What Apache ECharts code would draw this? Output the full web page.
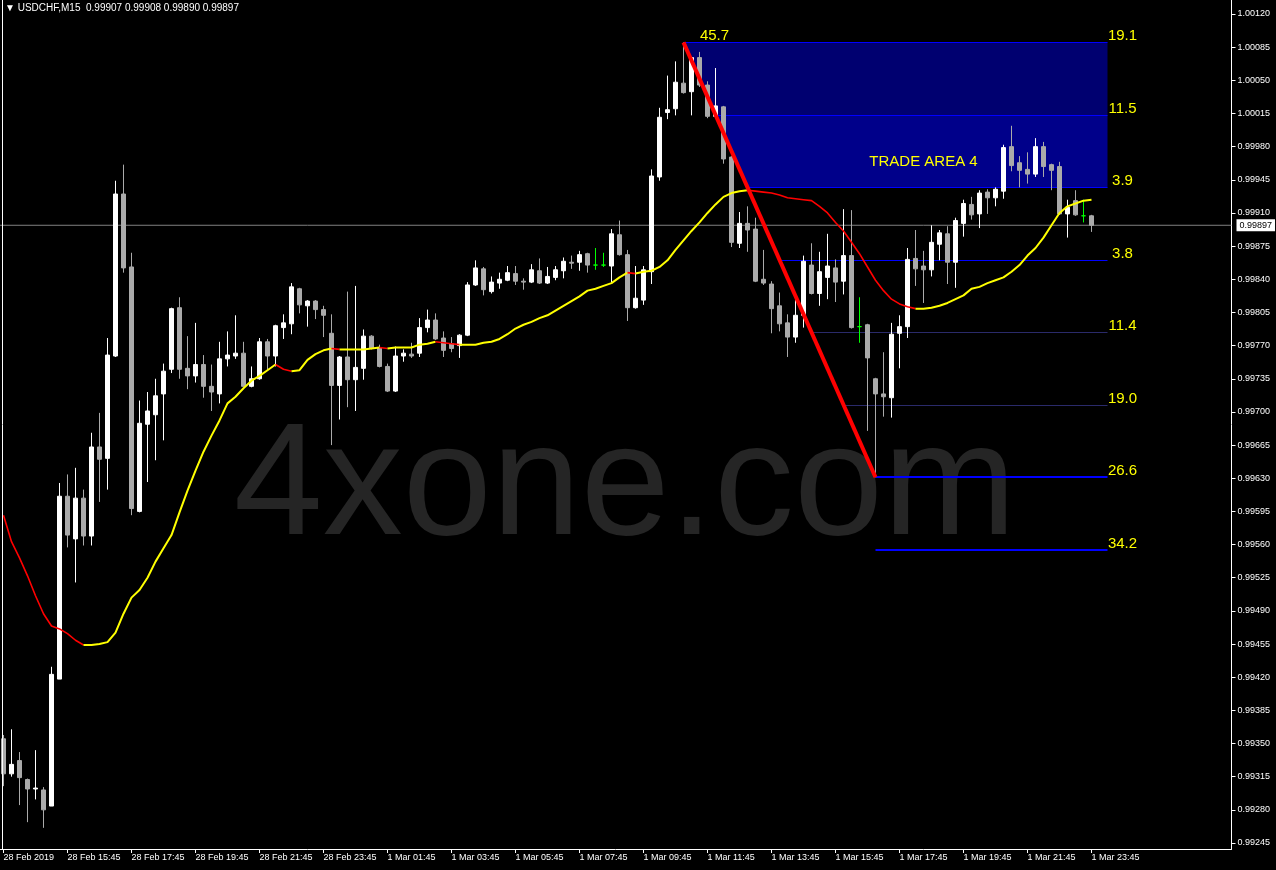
<!DOCTYPE html>
<html><head><meta charset="utf-8">
<script src="https://cdn.jsdelivr.net/npm/echarts@6/dist/echarts.min.js"></script>
<style>html,body{margin:0;padding:0;background:#000;}#c{width:1276px;height:870px;}</style>
</head><body><div id="c"></div>
<script>
const chartTitle = '\u25BC USDCHF,M15  0.99907 0.99908 0.99890 0.99897';
const watermark = '4xone.com';
const xTickLabels = ['28 Feb 2019','28 Feb 15:45','28 Feb 17:45','28 Feb 19:45','28 Feb 21:45','28 Feb 23:45',
  '1 Mar 01:45','1 Mar 03:45','1 Mar 05:45','1 Mar 07:45','1 Mar 09:45','1 Mar 11:45','1 Mar 13:45',
  '1 Mar 15:45','1 Mar 17:45','1 Mar 19:45','1 Mar 21:45','1 Mar 23:45'];
const yTicks = [0.99245,0.99280,0.99315,0.99350,0.99385,0.99420,0.99455,0.99490,0.99525,0.99560,
  0.99595,0.99630,0.99665,0.99700,0.99735,0.99770,0.99805,0.99840,0.99875,0.99910,0.99945,0.99980,
  1.00015,1.00050,1.00085,1.00120];

const opens = [0.99355,0.99318,0.99332,0.99312,0.99302,0.99301,0.99284,0.99418,0.99611,0.99566,
0.99609,0.99569,0.99663,0.99651,0.99759,0.99930,0.99853,0.99595,0.99687,0.99697,
0.99719,0.99745,0.99810,0.99746,0.99738,0.99750,0.99727,0.99719,0.99756,0.99759,
0.99762,0.99727,0.99735,0.99774,0.99759,0.99789,0.99793,0.99830,0.99812,0.99817,
0.99808,0.99783,0.99728,0.99758,0.99734,0.99746,0.99780,0.99768,0.99748,0.99722,
0.99759,0.99761,0.99762,0.99789,0.99797,0.99778,0.99772,0.99770,0.99781,0.99834,
0.99851,0.99827,0.99836,0.99839,0.99846,0.99838,0.99837,0.99849,0.99836,0.99842,
0.99849,0.99858,0.99858,0.99867,0.99855,0.99855,0.99854,0.99887,0.99866,0.99810,
0.99818,0.99848,0.99948,1.00016,1.00020,1.00047,1.00038,1.00074,1.00045,1.00012,
1.00022,0.99969,0.99878,0.99899,0.99893,0.99840,0.99835,0.99812,0.99794,0.99779,
0.99802,0.99855,0.99825,0.99842,0.99852,0.99838,0.99865,0.99790,0.99792,0.99735,
0.99719,0.99715,0.99783,0.99790,0.99862,0.99854,0.99850,0.99877,0.99888,0.99858,
0.99899,0.99919,0.99909,0.99932,0.99926,0.99933,0.99980,0.99963,0.99956,0.99951,
0.99980,0.99961,0.99959,0.99909,0.99923,0.99907,0.99907];
const closes = [0.99318,0.99328,0.99314,0.99302,0.99303,0.99280,0.99423,0.99611,0.99570,0.99609,
0.99569,0.99663,0.99650,0.99760,0.99930,0.99852,0.99598,0.99688,0.99701,0.99717,
0.99743,0.99809,0.99745,0.99738,0.99750,0.99727,0.99721,0.99756,0.99760,0.99762,
0.99727,0.99735,0.99774,0.99759,0.99791,0.99794,0.99832,0.99813,0.99817,0.99808,
0.99802,0.99728,0.99758,0.99734,0.99747,0.99780,0.99767,0.99748,0.99722,0.99759,
0.99762,0.99759,0.99789,0.99797,0.99777,0.99765,0.99767,0.99781,0.99834,0.99852,
0.99829,0.99837,0.99840,0.99847,0.99838,0.99837,0.99850,0.99836,0.99843,0.99850,
0.99859,0.99857,0.99866,0.99855,0.99855,0.99855,0.99888,0.99866,0.99810,0.99820,
0.99850,0.99949,1.00011,1.00019,1.00048,1.00037,1.00074,1.00045,1.00012,1.00023,
0.99967,0.99879,0.99899,0.99892,0.99838,0.99836,0.99809,0.99793,0.99779,0.99802,
0.99859,0.99825,0.99848,0.99854,0.99837,0.99865,0.99789,0.99790,0.99757,0.99719,
0.99716,0.99782,0.99790,0.99861,0.99851,0.99850,0.99879,0.99889,0.99858,0.99902,
0.99920,0.99908,0.99931,0.99926,0.99935,0.99979,0.99960,0.99955,0.99951,0.99980,
0.99959,0.99955,0.99909,0.99916,0.99908,0.99907,0.99897];
const highs = [0.99359,0.99365,0.99341,0.99313,0.99343,0.99304,0.99431,0.99625,0.99634,0.99641,
0.99618,0.99678,0.99699,0.99778,0.99944,0.99961,0.99868,0.99712,0.99721,0.99735,
0.99751,0.99810,0.99821,0.99780,0.99794,0.99760,0.99750,0.99774,0.99785,0.99802,
0.99774,0.99748,0.99778,0.99777,0.99792,0.99803,0.99836,0.99831,0.99818,0.99818,
0.99812,0.99803,0.99759,0.99827,0.99833,0.99787,0.99781,0.99771,0.99751,0.99769,
0.99766,0.99773,0.99799,0.99808,0.99804,0.99785,0.99779,0.99782,0.99837,0.99860,
0.99853,0.99843,0.99847,0.99854,0.99854,0.99841,0.99856,0.99862,0.99853,0.99854,
0.99863,0.99865,0.99870,0.99868,0.99873,0.99868,0.99893,0.99902,0.99871,0.99854,
0.99854,0.99956,1.00021,1.00055,1.00070,1.00090,1.00075,1.00080,1.00049,1.00063,
1.00023,0.99970,0.99911,0.99917,0.99905,0.99871,0.99838,0.99826,0.99803,0.99825,
0.99865,0.99878,0.99869,0.99888,0.99861,0.99914,0.99913,0.99821,0.99793,0.99736,
0.99763,0.99794,0.99802,0.99873,0.99892,0.99870,0.99897,0.99892,0.99896,0.99905,
0.99924,0.99927,0.99934,0.99935,0.99937,0.99982,1.00002,0.99970,0.99974,0.99989,
0.99985,0.99962,0.99964,0.99924,0.99934,0.99924,0.99908];
const lows = [0.99305,0.99315,0.99285,0.99267,0.99291,0.99261,0.99284,0.99418,0.99557,0.99520,
0.99559,0.99559,0.99605,0.99618,0.99758,0.99847,0.99591,0.99594,0.99626,0.99649,
0.99670,0.99741,0.99735,0.99724,0.99731,0.99715,0.99701,0.99709,0.99748,0.99756,
0.99727,0.99726,0.99734,0.99744,0.99748,0.99777,0.99782,0.99804,0.99790,0.99798,
0.99779,0.99665,0.99692,0.99705,0.99701,0.99734,0.99766,0.99747,0.99721,0.99721,
0.99753,0.99757,0.99758,0.99784,0.99776,0.99758,0.99763,0.99757,0.99780,0.99833,
0.99823,0.99825,0.99830,0.99838,0.99834,0.99829,0.99836,0.99835,0.99835,0.99839,
0.99841,0.99851,0.99849,0.99847,0.99850,0.99853,0.99837,0.99865,0.99796,0.99809,
0.99813,0.99835,0.99944,1.00009,1.00013,1.00036,1.00013,1.00043,1.00010,1.00011,
0.99962,0.99874,0.99873,0.99869,0.99837,0.99834,0.99783,0.99785,0.99758,0.99773,
0.99789,0.99824,0.99812,0.99819,0.99816,0.99824,0.99788,0.99773,0.99680,0.99631,
0.99695,0.99694,0.99746,0.99778,0.99833,0.99815,0.99843,0.99860,0.99835,0.99831,
0.99885,0.99903,0.99894,0.99909,0.99917,0.99925,0.99954,0.99937,0.99941,0.99948,
0.99948,0.99934,0.99908,0.99884,0.99907,0.99900,0.99890];
const maValues = [0.99591,0.99563,0.99546,0.99527,0.99506,0.99487,0.99474,0.99471,0.99466,0.99459,
0.99454,0.99454,0.99455,0.99457,0.99467,0.99487,0.99504,0.99512,0.99525,0.99542,
0.99556,0.99570,0.99594,0.99617,0.99638,0.99658,0.99675,0.99691,0.99709,0.99716,
0.99725,0.99733,0.99738,0.99744,0.99750,0.99745,0.99743,0.99744,0.99755,0.99761,
0.99765,0.99767,0.99766,0.99766,0.99766,0.99766,0.99767,0.99768,0.99767,0.99768,
0.99768,0.99768,0.99771,0.99772,0.99774,0.99773,0.99772,0.99771,0.99771,0.99771,
0.99773,0.99774,0.99777,0.99782,0.99788,0.99792,0.99795,0.99799,0.99802,0.99807,
0.99812,0.99817,0.99822,0.99828,0.99830,0.99833,0.99836,0.99842,0.99847,0.99846,
0.99848,0.99849,0.99853,0.99860,0.99871,0.99881,0.99891,0.99900,0.99910,0.99919,
0.99927,0.99931,0.99933,0.99934,0.99933,0.99932,0.99931,0.99929,0.99926,0.99925,
0.99924,0.99923,0.99917,0.99910,0.99900,0.99891,0.99879,0.99867,0.99853,0.99839,
0.99828,0.99819,0.99814,0.99811,0.99809,0.99809,0.99810,0.99812,0.99815,0.99819,
0.99823,0.99830,0.99832,0.99836,0.99839,0.99842,0.99848,0.99855,0.99865,0.99873,
0.99884,0.99897,0.99910,0.99917,0.99920,0.99923,0.99924];

const currentPrice = 0.99897;
const trendStart = 85, trendEnd = 109, fibEnd = 138;
const fibLevels = [1.00090, 1.00013, 0.99937, 0.99860, 0.99784, 0.99707, 0.99631, 0.99554];
const fibLabels = ['19.1','11.5','3.9','3.8','11.4','19.0','26.6','34.2'];
const moveLabel = '45.7';
const areaLabel = 'TRADE AREA 4';
const areaLabelBar = 115;

const SLOTS = 154;
const FONT = 'Liberation Sans, Arial, sans-serif';
const cats = Array.from({length: SLOTS}, (_, i) => String(i));
const candleData = opens.map((o, i) => [o, closes[i], lows[i], highs[i]]);

// MA split into colour runs (red = falling, yellow = rising/flat)
const runs = [];
for (let i = 1; i < maValues.length; i++) {
  const col = maValues[i] < maValues[i - 1] ? '#ff0000' : '#ffff00';
  const last = runs[runs.length - 1];
  if (last && last.color === col && last.end === i - 1) last.end = i;
  else runs.push({start: i - 1, end: i, color: col});
}
const maSeries = runs.map(r => ({
  type: 'line', xAxisIndex: 0, yAxisIndex: 0, z: 4, silent: true,
  data: maValues.map((v, i) => (i >= r.start && i <= r.end) ? v : null),
  showSymbol: false, symbol: 'none', connectNulls: false,
  lineStyle: {color: r.color, width: r.color === '#ff0000' ? 1.6 : 2},
  animation: false
}));

const tHigh = highs[trendStart], tLow = lows[trendEnd];
function trendX(level) {
  if (level >= tHigh) return trendStart;
  if (level <= tLow) return trendEnd;
  return trendStart + (tHigh - level) / (tHigh - tLow) * (trendEnd - trendStart);
}

const chart = echarts.init(document.getElementById('c'), null, {renderer: 'canvas'});
const option = {
  backgroundColor: '#000000',
  animation: false,
  grid: {left: -0.5, top: 0, width: 1232, height: 849, show: false, outerBoundsMode: 'none', containLabel: false},
  xAxis: [{
    type: 'category', data: cats, boundaryGap: true,
    axisLine: {show: true, lineStyle: {color: '#ffffff', width: 1}},
    axisTick: {show: true, alignWithLabel: true, length: 4, lineStyle: {color: '#ffffff'},
      interval: (idx) => idx % 8 === 0 && idx < opens.length},
    axisLabel: {show: true, color: '#ffffff', fontSize: 9, fontFamily: FONT, align: 'left', margin: 4,
      interval: (idx) => idx % 8 === 0 && idx < opens.length,
      formatter: (v, idx) => xTickLabels[idx / 8] || ''},
    splitLine: {show: false}
  }, {
    type: 'value', min: -0.5, max: SLOTS - 0.5, show: false
  }],
  yAxis: [{
    type: 'value', position: 'right',
    min: 0.99245 - 6 / 94743, max: 1.00120 + 14 / 94743,
    axisLine: {show: true, onZero: false, lineStyle: {color: '#ffffff', width: 1}},
    axisTick: {show: true, length: 4, lineStyle: {color: '#ffffff'}, customValues: yTicks},
    axisLabel: {show: true, color: '#ffffff', fontSize: 9, fontFamily: FONT, margin: 6,
      customValues: yTicks, formatter: v => v.toFixed(5)},
    splitLine: {show: false}
  }],
  graphic: [
    {type: 'text', z: 0, x: 625, y: 490, silent: true,
      style: {text: watermark, fill: '#252525', font: '160px ' + FONT, textAlign: 'center', textVerticalAlign: 'middle'}},
    {type: 'text', z: 10, x: 5, y: 3, silent: true,
      style: {text: chartTitle, fill: '#ffffff', font: '10px ' + FONT, textAlign: 'left', textVerticalAlign: 'top'}},
    {type: 'line', z: 10, silent: true, shape: {x1: 2.5, y1: 0, x2: 2.5, y2: 849},
      style: {stroke: '#ffffff', lineWidth: 1}}
  ],
  series: [
    {
      type: 'custom', name: 'fibFill', xAxisIndex: 1, yAxisIndex: 0, z: 1, silent: true,
      data: [[trendStart, fibLevels[0]]],
      renderItem: (params, api) => {
        const band = (a, b) => {
          const la = fibLevels[a], lb = fibLevels[b];
          return [api.coord([trendX(la), la]), api.coord([fibEnd, la]), api.coord([fibEnd, lb]), api.coord([trendX(lb), lb])];
        };
        return {type: 'group', children: [
          {type: 'polygon', shape: {points: band(0, 1)}, style: {fill: '#000070'}},
          {type: 'polygon', shape: {points: band(1, 2)}, style: {fill: '#00008a'}}
        ]};
      }
    },
    {
      type: 'custom', name: 'fibLines', xAxisIndex: 1, yAxisIndex: 0, z: 2, silent: true,
      data: fibLevels.map((v, k) => [k, v]),
      renderItem: (params, api) => {
        const k = params.dataIndex;
        const lvl = fibLevels[k];
        const p0 = api.coord([trendX(lvl), lvl]);
        const p1 = api.coord([fibEnd, lvl]);
        const w = k >= 6 ? 2 : 1;
        const y = w === 1 ? Math.round(p0[1]) + 0.5 : Math.round(p0[1]);
        const dim = (k === 4 || k === 5);
        return {type: 'line', shape: {x1: p0[0], y1: y, x2: p1[0], y2: y},
          style: {stroke: dim ? '#2a2a6a' : '#0000ff', lineWidth: w}};
      }
    },
    {
      type: 'line', name: 'price', xAxisIndex: 1, yAxisIndex: 0, z: 2, silent: true,
      data: [[-0.5, currentPrice], [SLOTS - 0.5, currentPrice]],
      showSymbol: false, symbol: 'none',
      lineStyle: {color: '#808080', width: 1},
      endLabel: {show: true, distance: 5, formatter: () => currentPrice.toFixed(5),
        color: '#000000', backgroundColor: '#ffffff', padding: [2, 3, 1, 3], fontSize: 9, fontFamily: FONT}
    },
    {
      type: 'candlestick', name: 'USDCHF', xAxisIndex: 0, yAxisIndex: 0, z: 3,
      data: candleData, barWidth: 5,
      itemStyle: {color: '#ffffff', color0: '#aaaaaa', borderColor: '#ffffff', borderColor0: '#aaaaaa',
        borderColorDoji: '#00ff00', borderWidth: 1}
    },
    ...maSeries,
    {
      type: 'line', name: 'trend', xAxisIndex: 1, yAxisIndex: 0, z: 6, silent: true,
      data: [[trendStart, tHigh], [trendEnd, tLow]],
      showSymbol: false, symbol: 'none',
      lineStyle: {color: '#ff0000', width: 4}
    },
    {
      type: 'custom', name: 'fibText', xAxisIndex: 1, yAxisIndex: 0, z: 7, silent: true,
      data: [[trendStart, fibLevels[0]]],
      renderItem: (params, api) => {
        const children = fibLevels.map((lvl, k) => {
          const p = api.coord([fibEnd, lvl]);
          return {type: 'text', x: p[0] + 15, y: p[1] + 1,
            style: {text: fibLabels[k], fill: '#ffff00', font: '15px ' + FONT, textAlign: 'center', textVerticalAlign: 'bottom'}};
        });
        const s = api.coord([trendStart, fibLevels[0]]);
        children.push({type: 'text', x: s[0] + 31, y: s[1] + 1,
          style: {text: moveLabel, fill: '#ffff00', font: '15px ' + FONT, textAlign: 'center', textVerticalAlign: 'bottom'}});
        const a = api.coord([areaLabelBar, (fibLevels[1] + fibLevels[2]) / 2]);
        children.push({type: 'text', x: a[0], y: a[1] + 10,
          style: {text: areaLabel, fill: '#ffff00', font: '15px ' + FONT, textAlign: 'center', textVerticalAlign: 'middle'}});
        return {type: 'group', children};
      }
    }
  ]
};
chart.setOption(option);
</script>
</body></html>
